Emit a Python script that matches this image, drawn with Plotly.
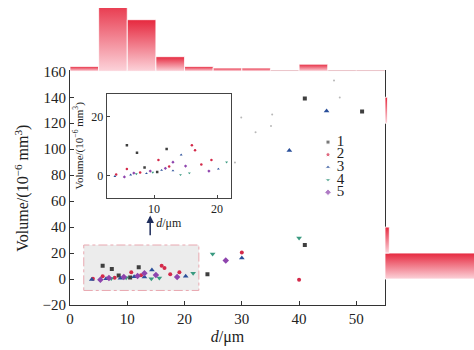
import plotly.graph_objects as go

# ---------------- data ----------------
series_names = ["1", "2", "3", "4", "5"]
s1_x = [5.7, 7.3, 12.0, 8.5, 10.5, 24.0, 41.0, 41.0, 51.0]
s1_y = [10.2, 7.7, 9.0, 2.7, 1.2, 3.7, 26.2, 139.0, 129.0]
s2_x = [16.0, 16.5, 10.7, 19.1, 17.5, 5.7, 4.0, 7.8, 12.4, 30.0, 40.0]
s2_y = [10.2, 8.5, 5.2, 5.2, 3.7, 2.2, 0.3, 1.0, 3.0, 20.5, -0.5]
s3_x = [14.3, 20.2, 3.8, 6.3, 8.8, 11.2, 13.0, 30.0, 38.3, 44.8]
s3_y = [7.0, 2.2, -0.3, 0.2, 0.7, 1.8, 1.6, 16.2, 99.0, 129.5]
s4_x = [21.5, 15.6, 14.2, 7.2, 9.8, 24.9, 40.0]
s4_y = [4.5, 0.8, 0.2, 0.5, 1.0, 19.2, 31.7]
s5_x = [13.0, 15.0, 18.7, 5.3, 9.4, 11.8, 6.8, 27.2]
s5_y = [4.5, 3.2, 1.5, -0.5, 1.5, 2.4, 0.8, 14.2]
faint_x = [28.8, 29.9, 32.4, 35.1, 35.3, 46.1, 47.1]
faint_y = [89.7, 124.5, 113.0, 117.8, 126.7, 153.0, 139.8]

# top histogram (d bins, width 5)
top_edges = [0, 5, 10, 15, 20, 25, 30, 35, 40, 45, 50, 55]
top_vals = [5, 75, 53, 15, 5, 3.3, 3.3, 1, 7.3, 1, 1]
# right histogram (volume bins, width 20)
right_edges = [-20, 0, 20, 40, 60, 80, 100, 120, 140, 160]
right_vals = [0, 95, 4.3, 0, 0, 0, 0, 2.5, 0]

# zoom region
box_x = [2.4, 22.5]
box_y = [-8.8, 26.2]

colors = ["#3f3f3f", "#d42a4a", "#2a4f9a", "#3a9a80", "#8e44ad"]
symbols = ["square", "circle", "triangle-up", "triangle-down", "diamond"]
sizes = [4, 4, 5, 5, 5]
xs = [s1_x, s2_x, s3_x, s4_x, s5_x]
ys = [s1_y, s2_y, s3_y, s4_y, s5_y]

FONT = "Liberation Serif, Times New Roman, serif"
grad = [[0, "#fcd3da"], [1, "#e6283e"]]

fig = go.Figure()

# histograms
for i, h in enumerate(top_vals):
    x0, x1 = top_edges[i], top_edges[i + 1]
    fig.add_trace(go.Scatter(x=[x0, x0, x1, x1, x0], y=[0, h, h, 0, 0],
                             xaxis="x2", yaxis="y2", mode="lines",
                             line=dict(color="white", width=0.8),
                             fill="toself",
                             fillgradient=dict(type="vertical", colorscale=grad),
                             hoverinfo="skip", showlegend=False))
for i, w in enumerate(right_vals):
    if w <= 0:
        continue
    y0, y1 = right_edges[i], right_edges[i + 1]
    fig.add_trace(go.Scatter(x=[0, w, w, 0, 0], y=[y0, y0, y1, y1, y0],
                             xaxis="x3", yaxis="y3", mode="lines",
                             line=dict(color="white", width=0.8),
                             fill="toself",
                             fillgradient=dict(type="vertical", colorscale=grad),
                             hoverinfo="skip", showlegend=False))

# faint points
fig.add_trace(go.Scatter(x=faint_x, y=faint_y, mode="markers",
                         marker=dict(color="#b8b8b8", size=2),
                         showlegend=False, hoverinfo="skip"))

# main series + inset
for k in range(5):
    fig.add_trace(go.Scatter(x=xs[k], y=ys[k], mode="markers", name=series_names[k],
                             marker=dict(color=colors[k], symbol=symbols[k], size=sizes[k]),
                             showlegend=False))
    fig.add_trace(go.Scatter(x=xs[k], y=ys[k], mode="markers", xaxis="x4", yaxis="y4",
                             marker=dict(color=colors[k], symbol=symbols[k], size=2.5),
                             showlegend=False, hoverinfo="skip"))

# custom legend
fig.add_trace(go.Scatter(x=[0.2] * 5, y=list(range(5)), mode="markers", xaxis="x5", yaxis="y5",
                         marker=dict(color=colors, symbol=symbols, size=[4, 4, 5, 5, 5]),
                         showlegend=False, hoverinfo="skip"))
fig.add_trace(go.Scatter(x=[0.45] * 5, y=list(range(5)), mode="text", xaxis="x5", yaxis="y5",
                         text=series_names, textposition="middle center",
                         textfont=dict(family=FONT, size=15, color="#222"),
                         showlegend=False, hoverinfo="skip"))

# zoom box and arrow
fig.add_shape(type="rect", xref="x", yref="y", x0=box_x[0], x1=box_x[1], y0=box_y[0], y1=box_y[1],
              fillcolor="#ececec", line=dict(color="#e8a8b0", width=1, dash="dashdot"), layer="below")
fig.add_annotation(x=14.0, y=49.0, ax=14.0, ay=32.5, xref="x", yref="y", axref="x", ayref="y",
                   showarrow=True, arrowhead=2, arrowsize=1, arrowwidth=1.5, arrowcolor="#1f2d5c", text="")

W_PLOT = 404.0
H_PLOT = 305.0
xd_main = [0, 315 / W_PLOT]
yd_main = [0, 240 / H_PLOT]
axis_common = dict(showline=True, linecolor="#333", linewidth=1, mirror=True, ticks="inside",
                   tickcolor="#333", showgrid=False, zeroline=False,
                   tickfont=dict(family=FONT, size=15, color="#222"))

fig.update_layout(
    width=474, height=350,
    margin=dict(l=70, r=0, t=0, b=45),
    paper_bgcolor="white", plot_bgcolor="white",
    font=dict(family=FONT, color="#222"),
    showlegend=False,
    xaxis=dict(domain=xd_main, range=[0, 55], tickvals=[0, 10, 20, 30, 40, 50], ticklen=4,
               title=dict(text="<i>d</i>/μm", font=dict(family=FONT, size=16), standoff=4),
               anchor="y", **axis_common),
    yaxis=dict(domain=yd_main, range=[-20, 160], tickvals=list(range(-20, 161, 20)), ticklen=4,
               title=dict(text="Volume/(10<sup>−6</sup> mm<sup>3</sup>)", font=dict(family=FONT, size=16), standoff=9),
               anchor="x", **axis_common),
    xaxis2=dict(domain=xd_main, matches="x", anchor="y2", visible=False),
    yaxis2=dict(domain=[240 / H_PLOT, 1], range=[0, 65], anchor="x2", visible=False),
    xaxis3=dict(domain=[315 / W_PLOT, 1], range=[0, 89], anchor="y3", visible=False),
    yaxis3=dict(domain=yd_main, matches="y", anchor="x3", visible=False),
    xaxis4=dict(domain=[(106.7 - 70) / W_PLOT, (231 - 70) / W_PLOT], range=[2.5, 22.2],
                tickvals=[10, 20], ticklen=3, anchor="y4",
                showline=True, linecolor="#444", linewidth=1, mirror=True, ticks="inside",
                tickcolor="#444", showgrid=False, zeroline=False,
                tickfont=dict(family=FONT, size=12, color="#222"),
                title=dict(text="<i>d</i>/μm", font=dict(family=FONT, size=12), standoff=1)),
    yaxis4=dict(domain=[(305 - 195) / H_PLOT, (305 - 88) / H_PLOT], range=[-7.6, 27.7],
                tickvals=[0, 20], ticklen=3, anchor="x4",
                showline=True, linecolor="#444", linewidth=1, mirror=True, ticks="inside",
                tickcolor="#444", showgrid=False, zeroline=False,
                tickfont=dict(family=FONT, size=12, color="#222"),
                title=dict(text="Volume/(10<sup>−6</sup> mm<sup>3</sup>)", font=dict(family=FONT, size=11), standoff=5)),
    xaxis5=dict(domain=[(318 - 70) / W_PLOT, (368 - 70) / W_PLOT], range=[0, 1], anchor="y5", visible=False),
    yaxis5=dict(domain=[(305 - 195.75) / H_PLOT, (305 - 131.25) / H_PLOT], range=[4.5, -0.5],
                anchor="x5", visible=False),
)

fig.write_html("out.html")
